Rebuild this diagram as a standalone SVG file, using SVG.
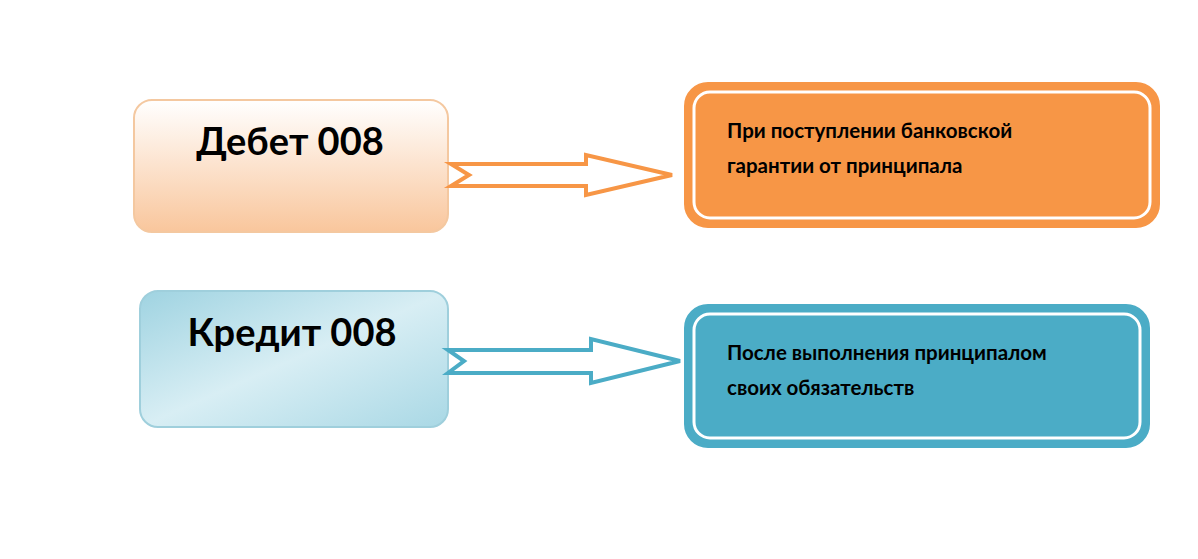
<svg xmlns="http://www.w3.org/2000/svg" width="1198" height="559" viewBox="0 0 1198 559">
<defs>
<linearGradient id="gO" x1="0" y1="0" x2="0" y2="1"><stop offset="0" stop-color="#fff"/><stop offset="1" stop-color="#f9c69c"/></linearGradient>
<linearGradient id="gB" x1="0" y1="0" x2="1" y2="1"><stop offset="0" stop-color="#9fd3e1"/><stop offset="0.5" stop-color="#d8eef4"/><stop offset="1" stop-color="#a9d8e5"/></linearGradient>
<style>
.t{font-family:Lato,"Open Sans",sans-serif;font-weight:bold;fill:#000}
.big{font-size:38px}
.sm{font-size:20.5px}
</style>
</defs>
<rect width="1198" height="559" fill="#fff"/>
<g id="debet"><rect x="134" y="100" width="314" height="132" rx="18" fill="url(#gO)" stroke="#f4c8a0" stroke-width="2"/><text class="t big" x="290" y="155" text-anchor="middle">Дебет 008</text></g>
<g id="kredit"><rect x="140" y="291" width="308" height="136" rx="18" fill="url(#gB)" stroke="#9fcfdc" stroke-width="2"/><text class="t big" x="292" y="346" text-anchor="middle">Кредит 008</text></g>
<g id="box1"><rect x="686" y="84" width="472" height="142" rx="22" fill="#f79646" stroke="#f79646" stroke-width="4"/><rect x="694" y="92" width="456" height="126" rx="16" fill="#f79646" stroke="#fff" stroke-width="3"/><text class="t sm" x="727" y="138">При поступлении банковской</text><text class="t sm" x="727" y="173">гарантии от принципала</text></g>
<g id="box2"><rect x="686" y="306" width="462" height="140" rx="22" fill="#4bacc6" stroke="#4bacc6" stroke-width="4"/><rect x="694" y="314" width="446" height="124" rx="16" fill="#4bacc6" stroke="#fff" stroke-width="3"/><text class="t sm" x="727" y="360">После выполнения принципалом</text><text class="t sm" x="727" y="395">своих обязательств</text></g>
<g id="connectors" fill="#fff" stroke-width="4" stroke-linejoin="miter">
<path d="M451,164 L586,164 L586,155 L672,175 L586,195 L586,186 L451,186 L469,175 Z" stroke="#f79646"/>
<path d="M448,350 L591,350 L591,339 L680,361 L591,383 L591,373 L448,373 L464,361 Z" stroke="#4bacc6"/>
</g>
</svg>
